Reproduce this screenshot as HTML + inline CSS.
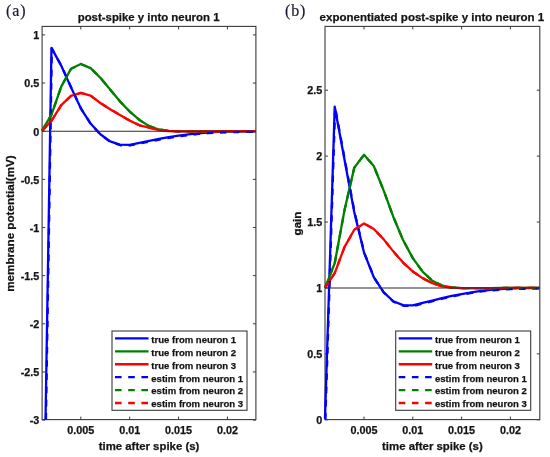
<!DOCTYPE html>
<html><head><meta charset="utf-8"><style>
html,body{margin:0;padding:0;background:#fff;}
svg{display:block;}
.tk{font-family:'Liberation Sans', Arial, sans-serif;font-weight:bold;font-size:10.8px;fill:#141414;stroke:#141414;stroke-width:0.25px;}
.lb{font-family:'Liberation Sans', Arial, sans-serif;font-weight:bold;font-size:11.4px;fill:#141414;stroke:#141414;stroke-width:0.25px;}
.yl{font-size:11.65px;}
.lg{font-family:'Liberation Sans', Arial, sans-serif;font-weight:bold;font-size:9.55px;fill:#141414;stroke:#141414;stroke-width:0.25px;}
.pn{font-family:'Liberation Serif','Times New Roman',serif;font-size:16px;letter-spacing:0.85px;fill:#1a1a30;stroke:#1a1a30;stroke-width:0.2px;}
</style></head><body>
<svg width="550" height="457" viewBox="0 0 550 457">
<rect width="550" height="457" fill="#fff"/>
<text x="6.0" y="15.9" class="pn">(a)</text>
<text x="285.0" y="16.2" class="pn">(b)</text>
<rect x="42.1" y="26.4" width="213.80" height="393.20" fill="none" stroke="#3a3a3a" stroke-width="1.1"/>
<path d="M80.80,419.6v-3M80.80,26.4v3M129.69,419.6v-3M129.69,26.4v3M178.57,419.6v-3M178.57,26.4v3M227.45,419.6v-3M227.45,26.4v3M42.1,34.90h3M255.9,34.90h-3M42.1,83.05h3M255.9,83.05h-3M42.1,131.20h3M255.9,131.20h-3M42.1,179.35h3M255.9,179.35h-3M42.1,227.50h3M255.9,227.50h-3M42.1,275.65h3M255.9,275.65h-3M42.1,323.80h3M255.9,323.80h-3M42.1,371.95h3M255.9,371.95h-3M42.1,420.10h3M255.9,420.10h-3" stroke="#3a3a3a" stroke-width="1" fill="none"/>
<g fill="none" stroke-width="2.3" stroke-linejoin="round" stroke-linecap="butt">
<polyline stroke="#0000ff" points="45.54,419.60 51.47,47.90 61.25,65.72 71.02,87.38 80.80,108.28 90.58,123.59 100.35,134.28 110.13,141.41 119.91,144.68 129.69,144.87 139.46,142.85 149.24,140.93 159.02,138.90 168.79,137.17 178.57,135.73 188.35,134.47 198.12,133.32 207.90,132.55 217.68,131.97 227.45,131.59 237.23,131.39 247.01,131.30 255.90,131.21"/>
<polyline stroke="#008000" points="42.10,130.51 51.47,114.64 61.25,86.61 71.02,68.80 80.80,63.98 90.58,68.12 100.35,77.75 110.13,89.60 119.91,101.35 129.69,111.55 139.46,119.93 149.24,126.10 159.02,129.47 168.79,130.81 178.57,131.30 188.35,131.30 198.12,131.30 207.90,131.30 217.68,131.20 227.45,131.20 237.23,131.20 247.01,131.20 255.90,131.20"/>
<polyline stroke="#ff0000" points="42.10,130.77 51.47,120.90 61.25,105.20 71.02,95.95 80.80,92.87 90.58,95.57 100.35,102.98 110.13,109.24 119.91,114.93 129.69,120.61 139.46,125.33 149.24,127.73 159.02,130.04 168.79,131.01 178.57,131.30 188.35,131.39 198.12,131.39 207.90,131.30 217.68,131.30 227.45,131.20 237.23,131.20 247.01,131.20 255.90,131.20"/>
<polyline stroke="#0000ff" stroke-dasharray="6.6 6.6" points="45.95,419.60 51.87,48.50 61.65,66.32 71.42,87.98 81.20,108.88 90.98,124.19 100.75,134.88 110.53,142.01 120.31,145.28 130.09,145.47 139.86,143.45 149.64,141.53 159.42,139.50 169.19,137.77 178.97,136.33 188.75,135.07 198.52,133.92 208.30,133.15 218.08,132.57 227.85,132.19 237.63,131.99 247.41,131.90 255.90,131.81"/>
<polyline stroke="#008000" stroke-dasharray="6.6 6.6" points="42.10,130.51 51.47,114.64 61.25,86.61 71.02,68.80 80.80,63.98 90.58,68.12 100.35,77.75 110.13,89.60 119.91,101.35 129.69,111.55 139.46,119.93 149.24,126.10 159.02,129.47 168.79,130.81 178.57,131.30 188.35,131.30 198.12,131.30 207.90,131.30 217.68,131.20 227.45,131.20 237.23,131.20 247.01,131.20 255.90,131.20"/>
<polyline stroke="#ff0000" stroke-dasharray="6.6 6.6" points="42.10,130.77 51.47,120.90 61.25,105.20 71.02,95.95 80.80,92.87 90.58,95.57 100.35,102.98 110.13,109.24 119.91,114.93 129.69,120.61 139.46,125.33 149.24,127.73 159.02,130.04 168.79,131.01 178.57,131.30 188.35,131.39 198.12,131.39 207.90,131.30 217.68,131.30 227.45,131.20 237.23,131.20 247.01,131.20 255.90,131.20"/>
</g>
<line x1="42.1" x2="255.9" y1="131.20" y2="131.20" stroke="#2a2a2a" stroke-width="1.1"/>
<text x="80.80" y="434.0" text-anchor="middle" class="tk">0.005</text>
<text x="129.69" y="434.0" text-anchor="middle" class="tk">0.01</text>
<text x="178.57" y="434.0" text-anchor="middle" class="tk">0.015</text>
<text x="227.45" y="434.0" text-anchor="middle" class="tk">0.02</text>
<text x="39.30" y="39.20" text-anchor="end" class="tk">1</text>
<text x="39.30" y="87.35" text-anchor="end" class="tk">0.5</text>
<text x="39.30" y="135.50" text-anchor="end" class="tk">0</text>
<text x="39.30" y="183.65" text-anchor="end" class="tk">-0.5</text>
<text x="39.30" y="231.80" text-anchor="end" class="tk">-1</text>
<text x="39.30" y="279.95" text-anchor="end" class="tk">-1.5</text>
<text x="39.30" y="328.10" text-anchor="end" class="tk">-2</text>
<text x="39.30" y="376.25" text-anchor="end" class="tk">-2.5</text>
<text x="39.30" y="424.40" text-anchor="end" class="tk">-3</text>
<text x="148.6" y="20.8" text-anchor="middle" class="lb">post-spike y into neuron 1</text>
<text x="149.00" y="449.8" text-anchor="middle" class="lb">time after spike (s)</text>
<text transform="translate(14.2,223.5) rotate(-90)" x="0" y="0" text-anchor="middle" class="lb yl">membrane potential(mV)</text>
<rect x="112.0" y="331.0" width="135.00" height="79.30" fill="#fff" stroke="#3a3a3a" stroke-width="1.1"/>
<line x1="115.00" x2="148.50" y1="338.40" y2="338.40" stroke="#0000ff" stroke-width="2.3"/>
<text x="151.30" y="342.75" class="lg">true from neuron 1</text>
<line x1="115.00" x2="148.50" y1="351.32" y2="351.32" stroke="#008000" stroke-width="2.3"/>
<text x="151.30" y="355.67" class="lg">true from neuron 2</text>
<line x1="115.00" x2="148.50" y1="364.24" y2="364.24" stroke="#ff0000" stroke-width="2.3"/>
<text x="151.30" y="368.59" class="lg">true from neuron 3</text>
<line x1="115.00" x2="148.50" y1="377.16" y2="377.16" stroke="#0000ff" stroke-width="2.3" stroke-dasharray="6.6 6.6"/>
<text x="151.30" y="381.51" class="lg">estim from neuron 1</text>
<line x1="115.00" x2="148.50" y1="390.08" y2="390.08" stroke="#008000" stroke-width="2.3" stroke-dasharray="6.6 6.6"/>
<text x="151.30" y="394.43" class="lg">estim from neuron 2</text>
<line x1="115.00" x2="148.50" y1="403.00" y2="403.00" stroke="#ff0000" stroke-width="2.3" stroke-dasharray="6.6 6.6"/>
<text x="151.30" y="407.35" class="lg">estim from neuron 3</text>
<rect x="325.0" y="26.4" width="214.80" height="393.20" fill="none" stroke="#3a3a3a" stroke-width="1.1"/>
<path d="M364.00,419.6v-3M364.00,26.4v3M412.80,419.6v-3M412.80,26.4v3M461.60,419.6v-3M461.60,26.4v3M510.40,419.6v-3M510.40,26.4v3M325.0,419.80h3M539.8,419.80h-3M325.0,353.88h3M539.8,353.88h-3M325.0,287.96h3M539.8,287.96h-3M325.0,222.04h3M539.8,222.04h-3M325.0,156.12h3M539.8,156.12h-3M325.0,90.20h3M539.8,90.20h-3" stroke="#3a3a3a" stroke-width="1" fill="none"/>
<g fill="none" stroke-width="2.3" stroke-linejoin="round" stroke-linecap="butt">
<polyline stroke="#0000ff" points="325.00,418.52 334.72,106.68 344.48,159.56 354.24,212.00 364.00,252.53 373.76,277.12 383.52,292.11 393.28,301.22 403.04,305.18 412.80,305.41 422.56,302.99 432.32,300.63 442.08,298.10 451.84,295.89 461.60,294.01 471.36,292.37 481.12,290.83 490.88,289.79 500.64,289.01 510.40,288.49 520.16,288.22 529.92,288.09 539.68,287.96"/>
<polyline stroke="#008000" points="325.00,287.86 334.72,263.22 344.48,210.33 354.24,167.76 364.00,154.84 373.76,165.99 383.52,190.14 393.28,216.72 403.04,240.05 412.80,258.12 422.56,271.60 432.32,280.78 442.08,285.57 451.84,287.43 461.60,288.09 471.36,288.09 481.12,288.09 490.88,288.09 500.64,287.96 510.40,287.96 520.16,287.96 529.92,287.96 539.68,287.96"/>
<polyline stroke="#ff0000" points="325.00,287.90 334.72,273.07 344.48,247.09 354.24,229.69 364.00,223.51 373.76,228.93 383.52,239.15 393.28,251.36 403.04,262.59 412.80,271.45 422.56,278.12 432.32,283.13 442.08,286.37 451.84,287.70 461.60,288.09 471.36,288.22 481.12,288.22 490.88,288.09 500.64,288.09 510.40,287.96 520.16,287.96 529.92,287.96 539.68,287.96"/>
<polyline stroke="#0000ff" stroke-dasharray="6.6 6.6" points="325.38,419.60 335.12,107.28 344.88,160.16 354.64,212.60 364.40,253.13 374.16,277.72 383.92,292.71 393.68,301.82 403.44,305.78 413.20,306.01 422.96,303.59 432.72,301.23 442.48,298.70 452.24,296.49 462.00,294.61 471.76,292.97 481.52,291.43 491.28,290.39 501.04,289.61 510.80,289.09 520.56,288.82 530.32,288.69 539.80,288.56"/>
<polyline stroke="#008000" stroke-dasharray="6.6 6.6" points="325.00,287.86 334.72,263.22 344.48,210.33 354.24,167.76 364.00,154.84 373.76,165.99 383.52,190.14 393.28,216.72 403.04,240.05 412.80,258.12 422.56,271.60 432.32,280.78 442.08,285.57 451.84,287.43 461.60,288.09 471.36,288.09 481.12,288.09 490.88,288.09 500.64,287.96 510.40,287.96 520.16,287.96 529.92,287.96 539.68,287.96"/>
<polyline stroke="#ff0000" stroke-dasharray="6.6 6.6" points="325.00,287.90 334.72,273.07 344.48,247.09 354.24,229.69 364.00,223.51 373.76,228.93 383.52,239.15 393.28,251.36 403.04,262.59 412.80,271.45 422.56,278.12 432.32,283.13 442.08,286.37 451.84,287.70 461.60,288.09 471.36,288.22 481.12,288.22 490.88,288.09 500.64,288.09 510.40,287.96 520.16,287.96 529.92,287.96 539.68,287.96"/>
</g>
<line x1="325.0" x2="539.8" y1="287.96" y2="287.96" stroke="#2a2a2a" stroke-width="1.1"/>
<text x="364.00" y="434.0" text-anchor="middle" class="tk">0.005</text>
<text x="412.80" y="434.0" text-anchor="middle" class="tk">0.01</text>
<text x="461.60" y="434.0" text-anchor="middle" class="tk">0.015</text>
<text x="510.40" y="434.0" text-anchor="middle" class="tk">0.02</text>
<text x="322.20" y="423.60" text-anchor="end" class="tk">0</text>
<text x="322.20" y="357.68" text-anchor="end" class="tk">0.5</text>
<text x="322.20" y="291.76" text-anchor="end" class="tk">1</text>
<text x="322.20" y="225.84" text-anchor="end" class="tk">1.5</text>
<text x="322.20" y="159.92" text-anchor="end" class="tk">2</text>
<text x="322.20" y="94.00" text-anchor="end" class="tk">2.5</text>
<text x="431.9" y="20.8" text-anchor="middle" class="lb" style="font-size:11.52px">exponentiated post-spike y into neuron 1</text>
<text x="432.40" y="449.8" text-anchor="middle" class="lb">time after spike (s)</text>
<text transform="translate(300.8,223.5) rotate(-90)" x="0" y="0" text-anchor="middle" class="lb yl">gain</text>
<rect x="395.7" y="331.0" width="135.00" height="79.30" fill="#fff" stroke="#3a3a3a" stroke-width="1.1"/>
<line x1="398.70" x2="432.20" y1="338.40" y2="338.40" stroke="#0000ff" stroke-width="2.3"/>
<text x="435.00" y="342.75" class="lg">true from neuron 1</text>
<line x1="398.70" x2="432.20" y1="351.32" y2="351.32" stroke="#008000" stroke-width="2.3"/>
<text x="435.00" y="355.67" class="lg">true from neuron 2</text>
<line x1="398.70" x2="432.20" y1="364.24" y2="364.24" stroke="#ff0000" stroke-width="2.3"/>
<text x="435.00" y="368.59" class="lg">true from neuron 3</text>
<line x1="398.70" x2="432.20" y1="377.16" y2="377.16" stroke="#0000ff" stroke-width="2.3" stroke-dasharray="6.6 6.6"/>
<text x="435.00" y="381.51" class="lg">estim from neuron 1</text>
<line x1="398.70" x2="432.20" y1="390.08" y2="390.08" stroke="#008000" stroke-width="2.3" stroke-dasharray="6.6 6.6"/>
<text x="435.00" y="394.43" class="lg">estim from neuron 2</text>
<line x1="398.70" x2="432.20" y1="403.00" y2="403.00" stroke="#ff0000" stroke-width="2.3" stroke-dasharray="6.6 6.6"/>
<text x="435.00" y="407.35" class="lg">estim from neuron 3</text>
</svg>
</body></html>
